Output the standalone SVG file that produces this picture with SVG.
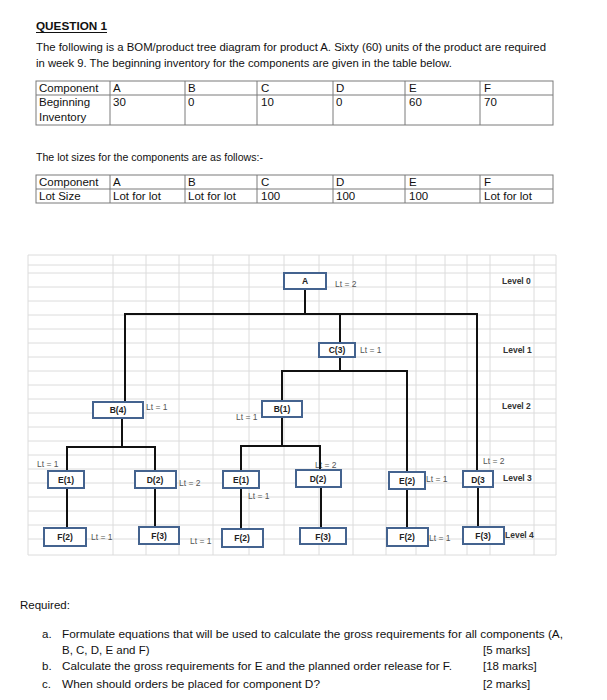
<svg xmlns="http://www.w3.org/2000/svg" width="607" height="700" viewBox="0 0 607 700">
<style>
.t{font-family:"Liberation Sans",Arial,sans-serif;font-size:11.5px;fill:#111}
.b{font-weight:bold}
.tb{fill:none;stroke:#7a7a7a;stroke-width:1}
.g line{stroke:#dcdcdc;stroke-width:1}
.n rect{fill:#fff;stroke:#44638f;stroke-width:2}
.n text{font-family:"Liberation Sans",Arial,sans-serif;font-size:8.5px;font-weight:bold;fill:#222;text-anchor:middle}
.lt{font-family:"Liberation Sans",Arial,sans-serif;font-size:8.5px;fill:#555}
.lv{font-family:"Liberation Sans",Arial,sans-serif;font-size:8.5px;font-weight:bold;fill:#333}
.c line{stroke:#111;stroke-width:2;stroke-linecap:square}
</style>
<rect width="607" height="700" fill="#fff"/>
<text class="t b" x="36" y="30" textLength="71" lengthAdjust="spacingAndGlyphs">QUESTION 1</text>
<line x1="36" y1="32.5" x2="107" y2="32.5" stroke="#111" stroke-width="1"/>
<text class="t" x="36" y="51" textLength="510" lengthAdjust="spacingAndGlyphs">The following is a BOM/product tree diagram for product A.  Sixty (60)  units of the product are required</text>
<text class="t" x="36" y="67" textLength="416" lengthAdjust="spacingAndGlyphs">in week 9.  The beginning inventory for the components are given in the table below.</text>
<g id="table1">
<rect class="tb" x="36" y="81" width="517" height="44"/>
<line class="tb" x1="36" y1="95" x2="553" y2="95"/>
<line class="tb" x1="110" y1="81" x2="110" y2="125"/>
<line class="tb" x1="185" y1="81" x2="185" y2="125"/>
<line class="tb" x1="257" y1="81" x2="257" y2="125"/>
<line class="tb" x1="333" y1="81" x2="333" y2="125"/>
<line class="tb" x1="405" y1="81" x2="405" y2="125"/>
<line class="tb" x1="480" y1="81" x2="480" y2="125"/>
<text class="t" x="39" y="92">Component</text>
<text class="t" x="113" y="92">A</text><text class="t" x="188" y="92">B</text><text class="t" x="261" y="92">C</text>
<text class="t" x="336" y="92">D</text><text class="t" x="409" y="92">E</text><text class="t" x="484" y="92">F</text>
<text class="t" x="39" y="106">Beginning</text><text class="t" x="39" y="121">Inventory</text>
<text class="t" x="113" y="106">30</text><text class="t" x="188" y="106">0</text><text class="t" x="261" y="106">10</text>
<text class="t" x="336" y="106">0</text><text class="t" x="409" y="106">60</text><text class="t" x="484" y="106">70</text>
</g>
<text class="t" x="36" y="161" textLength="227" lengthAdjust="spacingAndGlyphs">The lot sizes for the components are as follows:-</text>
<g id="table2">
<rect class="tb" x="36" y="175" width="517" height="28"/>
<line class="tb" x1="36" y1="189" x2="553" y2="189"/>
<line class="tb" x1="110" y1="175" x2="110" y2="203"/>
<line class="tb" x1="185" y1="175" x2="185" y2="203"/>
<line class="tb" x1="257" y1="175" x2="257" y2="203"/>
<line class="tb" x1="333" y1="175" x2="333" y2="203"/>
<line class="tb" x1="405" y1="175" x2="405" y2="203"/>
<line class="tb" x1="480" y1="175" x2="480" y2="203"/>
<text class="t" x="39" y="186">Component</text>
<text class="t" x="113" y="186">A</text><text class="t" x="188" y="186">B</text><text class="t" x="261" y="186">C</text>
<text class="t" x="336" y="186">D</text><text class="t" x="409" y="186">E</text><text class="t" x="484" y="186">F</text>
<text class="t" x="39" y="200">Lot Size</text>
<text class="t" x="113" y="200">Lot for lot</text><text class="t" x="188" y="200">Lot for lot</text><text class="t" x="261" y="200">100</text>
<text class="t" x="336" y="200">100</text><text class="t" x="409" y="200">100</text><text class="t" x="484" y="200">Lot for lot</text>
</g>
<g id="grid" class="g">
<line x1="28" y1="255" x2="28" y2="555"/><line x1="113" y1="255" x2="113" y2="555"/><line x1="146" y1="255" x2="146" y2="555"/>
<line x1="179" y1="255" x2="179" y2="555"/><line x1="213" y1="255" x2="213" y2="555"/><line x1="249" y1="255" x2="249" y2="555"/>
<line x1="284" y1="255" x2="284" y2="555"/><line x1="319" y1="255" x2="319" y2="555"/><line x1="353" y1="255" x2="353" y2="555"/>
<line x1="386" y1="255" x2="386" y2="555"/><line x1="416" y1="255" x2="416" y2="555"/><line x1="445" y1="255" x2="445" y2="555"/>
<line x1="467" y1="255" x2="467" y2="555"/><line x1="490" y1="255" x2="490" y2="555"/><line x1="534" y1="255" x2="534" y2="555"/>
<line x1="556" y1="255" x2="556" y2="555"/>
<line x1="28" y1="255" x2="556" y2="255"/><line x1="28" y1="265" x2="556" y2="265"/><line x1="28" y1="273" x2="556" y2="273"/>
<line x1="28" y1="287" x2="556" y2="287"/><line x1="28" y1="301" x2="556" y2="301"/><line x1="28" y1="315" x2="556" y2="315"/>
<line x1="28" y1="329" x2="556" y2="329"/><line x1="28" y1="343" x2="556" y2="343"/><line x1="28" y1="357" x2="556" y2="357"/>
<line x1="28" y1="371" x2="556" y2="371"/><line x1="28" y1="385" x2="556" y2="385"/><line x1="28" y1="399" x2="556" y2="399"/>
<line x1="28" y1="413" x2="556" y2="413"/><line x1="28" y1="427" x2="556" y2="427"/><line x1="28" y1="441" x2="556" y2="441"/>
<line x1="28" y1="455" x2="556" y2="455"/><line x1="28" y1="469" x2="556" y2="469"/><line x1="28" y1="483" x2="556" y2="483"/>
<line x1="28" y1="497" x2="556" y2="497"/><line x1="28" y1="511" x2="556" y2="511"/><line x1="28" y1="525" x2="556" y2="525"/>
<line x1="28" y1="539" x2="556" y2="539"/><line x1="28" y1="555" x2="556" y2="555"/>
</g>
<g id="labels">
<text class="lt" x="335" y="287">Lt = 2</text>
<text class="lt" x="360" y="353">Lt = 1</text>
<text class="lt" x="146" y="410">Lt = 1</text>
<text class="lt" x="236" y="420">Lt = 1</text>
<text class="lt" x="37" y="467">Lt = 1</text>
<text class="lt" x="179" y="486">Lt = 2</text>
<text class="lt" x="248" y="499">Lt = 1</text>
<text class="lt" x="315" y="468">Lt = 2</text>
<text class="lt" x="426" y="482">Lt = 1</text>
<text class="lt" x="483" y="464">Lt = 2</text>
<text class="lt" x="91" y="540">Lt = 1</text>
<text class="lt" x="190" y="544">Lt = 1</text>
<text class="lt" x="429" y="541">Lt = 1</text>
<text class="lv" x="502" y="284">Level 0</text>
<text class="lv" x="503" y="353">Level 1</text>
<text class="lv" x="502" y="409">Level 2</text>
<text class="lv" x="503" y="481">Level 3</text>
<text class="lv" x="505" y="538">Level 4</text>
</g>
<g id="connectors" class="c">
<line x1="305" y1="289" x2="305" y2="314"/>
<line x1="125" y1="314" x2="477" y2="314"/>
<line x1="340" y1="314" x2="340" y2="343"/>
<line x1="125" y1="314" x2="125" y2="402"/>
<line x1="477" y1="314" x2="477" y2="471"/>
<line x1="340" y1="357" x2="340" y2="371"/>
<line x1="282" y1="371" x2="407" y2="371"/>
<line x1="282" y1="371" x2="282" y2="401"/>
<line x1="407" y1="371" x2="407" y2="472"/>
<line x1="122" y1="418" x2="122" y2="447"/>
<line x1="67" y1="447" x2="155" y2="447"/>
<line x1="67" y1="447" x2="67" y2="471"/>
<line x1="155" y1="447" x2="155" y2="471"/>
<line x1="67" y1="488" x2="67" y2="528"/>
<line x1="155" y1="488" x2="155" y2="527"/>
<line x1="282" y1="417" x2="282" y2="446"/>
<line x1="241" y1="446" x2="320" y2="446"/>
<line x1="241" y1="446" x2="241" y2="471"/>
<line x1="320" y1="446" x2="320" y2="470"/>
<line x1="241" y1="488" x2="241" y2="529"/>
<line x1="321" y1="487" x2="321" y2="528"/>
<line x1="407" y1="489" x2="407" y2="528"/>
<line x1="478" y1="487" x2="478" y2="527"/>
</g>
<g id="nA" class="n"><rect x="284" y="273" width="42" height="16"/><text x="305" y="284">A</text></g>
<g id="nC3" class="n"><rect x="319" y="343" width="36" height="14"/><text x="337" y="353">C(3)</text></g>
<g id="nB4" class="n"><rect x="93" y="402" width="50" height="16"/><text x="118" y="413">B(4)</text></g>
<g id="nB1" class="n"><rect x="262" y="401" width="40" height="16"/><text x="282" y="412">B(1)</text></g>
<g id="nE1a" class="n"><rect x="48" y="471" width="36" height="17"/><text x="66" y="483">E(1)</text></g>
<g id="nD2a" class="n"><rect x="135" y="471" width="41" height="17"/><text x="155" y="483">D(2)</text></g>
<g id="nE1b" class="n"><rect x="223" y="471" width="36" height="17"/><text x="241" y="483">E(1)</text></g>
<g id="nD2b" class="n"><rect x="296" y="470" width="45" height="17"/><text x="318" y="482">D(2)</text></g>
<g id="nE2" class="n"><rect x="389" y="472" width="36" height="17"/><text x="407" y="484">E(2)</text></g>
<g id="nD3" class="n"><rect x="463" y="471" width="30" height="16"/><text x="478" y="483">D(3</text></g>
<g id="nF2a" class="n"><rect x="44" y="528" width="42" height="18"/><text x="65" y="540">F(2)</text></g>
<g id="nF3a" class="n"><rect x="139" y="527" width="40" height="17"/><text x="159" y="539">F(3)</text></g>
<g id="nF2b" class="n"><rect x="222" y="529" width="41" height="18"/><text x="242" y="541">F(2)</text></g>
<g id="nF3b" class="n"><rect x="300" y="528" width="46" height="16"/><text x="323" y="540">F(3)</text></g>
<g id="nF2c" class="n"><rect x="387" y="528" width="41" height="18"/><text x="407" y="540">F(2)</text></g>
<g id="nF3c" class="n"><rect x="463" y="527" width="41" height="17"/><text x="483" y="539">F(3)</text></g>
<g id="required">
<text class="t" x="20" y="609">Required:</text>
<text class="t" x="42" y="638">a.</text>
<text class="t" x="62" y="638" textLength="501" lengthAdjust="spacingAndGlyphs">Formulate equations that will be used to calculate the gross requirements for all components (A,</text>
<text class="t" x="62" y="654">B, C, D, E and F)</text>
<text class="t" x="483" y="654">[5 marks]</text>
<text class="t" x="42" y="670">b.</text>
<text class="t" x="62" y="670" textLength="390" lengthAdjust="spacingAndGlyphs">Calculate the gross requirements for E and the planned order release for F.</text>
<text class="t" x="483" y="670">[18 marks]</text>
<text class="t" x="42" y="688">c.</text>
<text class="t" x="62" y="688" textLength="258" lengthAdjust="spacingAndGlyphs">When should orders be placed for component D?</text>
<text class="t" x="483" y="688">[2 marks]</text>
</g>
</svg>
